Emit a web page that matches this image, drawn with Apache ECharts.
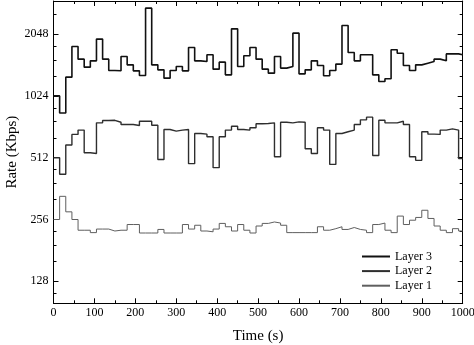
<!DOCTYPE html>
<html><head><meta charset="utf-8">
<script src="https://cdn.jsdelivr.net/npm/echarts@6/dist/echarts.min.js"></script>
<style>html,body{margin:0;padding:0;background:#fff}#c{width:474px;height:345px}</style>
</head><body><div id="c"></div>
<script>
const times = [0,15,30,45,60,75,90,105,120,135,150,165,180,195,210,225,240,255,270,285,300,315,330,345,360,375,390,405,420,435,450,465,480,495,510,525,540,555,570,585,600,615,630,645,660,675,690,705,720,735,750,765,780,795,810,825,840,855,870,885,900,915,930,945,960,975,990];
const timeEnd = 1000;
const layer3 = [1024,845,1264,1783,1547,1414,1518,1937,1547,1362,1357,1594,1451,1357,1287,2741,1451,1372,1250,1362,1424,1357,1762,1518,1507,1624,1383,1496,1297,2173,1424,1606,1762,1547,1383,1322,1594,1399,1424,2071,1312,1372,1518,1440,1283,1362,1463,2255,1666,1518,1624,1624,1297,1203,1241,1718,1654,1440,1362,1451,1479,1507,1547,1518,1641,1641,1624];
const layer2 = [512,425,590,665,698,541,537,757,777,779,762,743,743,735,771,771,737,502,703,690,698,703,479,672,667,648,458,648,698,729,703,698,716,749,751,757,518,762,757,765,762,566,537,716,698,475,672,685,698,743,783,807,525,779,757,757,771,743,518,497,685,667,665,698,708,698,507];
const layer1 = [256,332,279,256,227,227,221,230,230,225,227,227,242,242,220,220,220,229,220,220,220,242,230,240,225,223,230,245,236,225,242,227,220,238,245,249,246,240,221,221,221,221,221,236,227,231,236,229,234,229,227,221,242,246,227,221,266,242,254,262,284,259,238,227,221,231,225];
const seriesNames = ['Layer 3','Layer 2','Layer 1'];
const yMajorTicks = [128,256,512,1024,2048];
const yMinorTicks = [112,160,192,224,320,384,448,640,768,896,1280,1536,1792,2560];
const xTickInterval = 100;

function pairs(vals){
  const d = times.map((t,i)=>[t, vals[i]]);
  d.push([timeEnd, vals[vals.length-1]]);
  return d;
}
const font = 'Liberation Serif';
const black = '#000';
const plain = v => String(Math.round(v));
const yBase = {type:'log', logBase:2, min:100, max:2970, splitLine:{show:false}, gridIndex:0};
function yMajor(pos, labels){
  return Object.assign({}, yBase, {
    position: pos,
    axisLine:{show:true, lineStyle:{color:black,width:1}},
    axisTick:{show:true, inside:true, length:5, customValues:yMajorTicks, lineStyle:{color:black,width:1}},
    axisLabel:{show:labels, customValues:yMajorTicks, formatter:plain, fontFamily:font, fontSize:12, color:black, margin:5}
  });
}
function yMinor(pos){
  return Object.assign({}, yBase, {
    position: pos,
    axisLine:{show:false},
    axisTick:{show:true, inside:true, length:3, customValues:yMinorTicks, lineStyle:{color:black,width:1}},
    axisLabel:{show:false}
  });
}
const yLeft = yMajor('left', true);
yLeft.name = 'Rate (Kbps)';
yLeft.nameLocation = 'middle';
yLeft.nameGap = 34;
yLeft.nameMoveOverlap = false;
yLeft.nameTextStyle = {fontFamily:font, fontSize:15, color:black};

function xAx(pos, labels){
  return {
    type:'value', min:0, max:timeEnd, interval:xTickInterval, position:pos, gridIndex:0,
    splitLine:{show:false},
    axisLine:{show:true, lineStyle:{color:black,width:1}},
    axisTick:{show:true, inside:true, length:5, lineStyle:{color:black}},
    minorTick:{show:true, splitNumber:2, length:3, lineStyle:{color:black}},
    axisLabel:{show:labels, formatter:plain, fontFamily:font, fontSize:12, color:black, margin:4,
      showMinLabel:true, showMaxLabel:true, hideOverlap:false}
  };
}
const xBottom = xAx('bottom', true);
xBottom.name = 'Time (s)';
xBottom.nameLocation = 'middle';
xBottom.nameGap = 25;
xBottom.nameTextStyle = {fontFamily:font, fontSize:15, color:black};

const colors = ['#111111','#2e2e2e','#5f5f5f'];
const widths = [1.6,1.4,1];
const allData = [layer3, layer2, layer1];

const chart = echarts.init(document.getElementById('c'), null, {renderer:'canvas'});
chart.setOption({
  animation:false,
  backgroundColor:'#fff',
  grid:{left:53.5, right:11.3, top:1, bottom:41.7, show:false, containLabel:false, outerBoundsMode:'none'},
  xAxis:[xBottom, xAx('top', false)],
  yAxis:[yLeft, yMinor('left'), yMajor('right', false), yMinor('right')],
  legend:{
    orient:'vertical', left:361, top:250.5, itemWidth:28, itemHeight:12, itemGap:2.6, padding:0,
    textStyle:{fontFamily:font, fontSize:12, color:black},
    itemStyle:{opacity:0, color:'transparent', borderWidth:0},
    data: seriesNames
  },
  series: seriesNames.map((n,i)=>({
    name:n, type:'line', step:'end', data:pairs(allData[i]),
    xAxisIndex:0, yAxisIndex:0, symbol:'none', showSymbol:false,
    lineStyle:{color:colors[i], width:widths[i]}, itemStyle:{color:colors[i]},
    clip:true
  }))
});
</script></body></html>
